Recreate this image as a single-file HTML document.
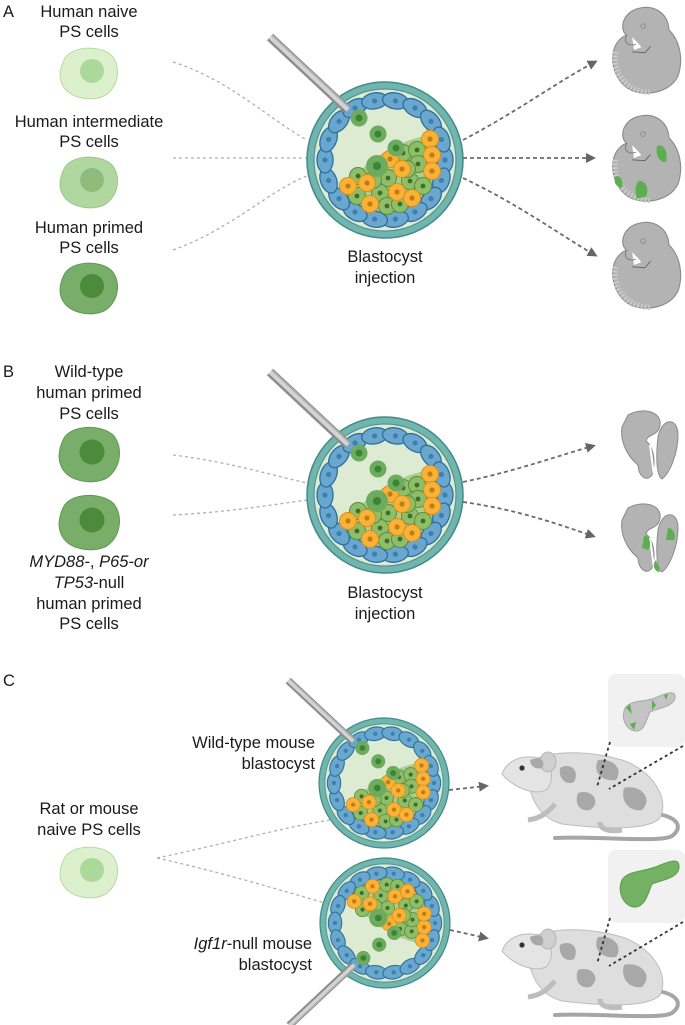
<!DOCTYPE html>
<html><head><meta charset="utf-8"><style>
html,body{margin:0;padding:0;background:#fff;}
svg{display:block;font-family:"Liberation Sans",sans-serif;}
.t{font-size:16.5px;fill:#1a1a1a;text-anchor:middle;}
.l{font-size:16.5px;fill:#1a1a1a;}
.in{stroke:#b0b0b0;stroke-width:1.3;stroke-dasharray:3 3;fill:none;}
.out{stroke:#6a6a6a;stroke-width:1.8;stroke-dasharray:4 3;fill:none;}
</style></head><body>
<svg width="685" height="1025" viewBox="0 0 685 1025" xmlns="http://www.w3.org/2000/svg">
<defs>
<marker id="ah" markerWidth="10" markerHeight="10" refX="7" refY="5" orient="auto" markerUnits="userSpaceOnUse">
<path d="M0,0 L10,5 L0,10 Z" fill="#666"/></marker>
<g id="tro"><ellipse cx="60" cy="0" rx="8" ry="13" fill="#6aa7cf" stroke="#2e6f9c" stroke-width="1.3"/><circle cx="60" cy="0" r="2.6" fill="#3d80b0"/></g>
<g id="oc"><circle r="8.5" fill="#f7b23a" stroke="#e08e12" stroke-width="1"/><circle r="2.6" fill="#c87a10"/></g>
<g id="gc"><circle r="8.5" fill="#8fbe68" stroke="#5c8c42" stroke-width="1"/><circle r="2.4" fill="#3f6e2a"/></g>
<g id="pc"><circle r="8.5" fill="#6dab5e"/><circle r="3.5" fill="#3c8434"/></g>
<g id="blast">
<circle r="78" fill="#72b5ae" stroke="#3f8c86" stroke-width="1.5"/>
<circle r="71" fill="#dcebd2" stroke="#4d9791" stroke-width="1.2"/>
<path d="M-22,8 C0,-12 30,-25 52,-25 L54,30 C40,52 10,56 -20,52 C-40,46 -48,30 -45,22 Z" fill="#a9cf8e"/>
<g transform="rotate(0)"><use href="#tro"/></g><g transform="rotate(20)"><use href="#tro"/></g><g transform="rotate(40)"><use href="#tro"/></g><g transform="rotate(60)"><use href="#tro"/></g><g transform="rotate(80)"><use href="#tro"/></g><g transform="rotate(100)"><use href="#tro"/></g><g transform="rotate(120)"><use href="#tro"/></g><g transform="rotate(140)"><use href="#tro"/></g><g transform="rotate(160)"><use href="#tro"/></g><g transform="rotate(180)"><use href="#tro"/></g><g transform="rotate(200)"><use href="#tro"/></g><g transform="rotate(220)"><use href="#tro"/></g><g transform="rotate(240)"><use href="#tro"/></g><g transform="rotate(260)"><use href="#tro"/></g><g transform="rotate(280)"><use href="#tro"/></g><g transform="rotate(300)"><use href="#tro"/></g><g transform="rotate(320)"><use href="#tro"/></g><g transform="rotate(340)"><use href="#tro"/></g>
<use href="#gc" x="18" y="-7"/><use href="#gc" x="32" y="-10"/><use href="#gc" x="33" y="4"/><use href="#gc" x="25" y="21"/><use href="#gc" x="38" y="26"/><use href="#gc" x="3" y="18"/><use href="#gc" x="-5" y="33"/><use href="#gc" x="-27" y="16"/><use href="#gc" x="-28" y="36"/><use href="#gc" x="2" y="46"/><use href="#gc" x="15" y="44"/><use href="#gc" x="22" y="9"/><use href="#gc" x="-12" y="20"/>
<use href="#oc" x="45" y="-21"/><use href="#oc" x="47" y="-5"/><use href="#oc" x="47" y="11"/><use href="#oc" x="5" y="-1"/><use href="#oc" x="17" y="9"/><use href="#oc" x="-18" y="23"/><use href="#oc" x="-37" y="26"/><use href="#oc" x="12" y="32"/><use href="#oc" x="27" y="38"/><use href="#oc" x="-15" y="44"/>
<use href="#pc" x="-26" y="-42"/><use href="#pc" x="-7" y="-26"/><use href="#pc" x="11" y="-12"/>
<circle cx="-8" cy="6" r="11" fill="#6dab5e"/><circle cx="-8" cy="6" r="4" fill="#3c8434"/>
<path d="M-115,-123 L-37,-50" stroke="#8d8d8d" stroke-width="9" stroke-linecap="butt"/>
<path d="M-115,-123 L-37,-50" stroke="#d4d4d4" stroke-width="4"/>
<path d="M-115,-123 L-37,-50" stroke="#b0b0b0" stroke-width="1.5" transform="translate(2,-2)"/>
</g>
<g id="emb">
<path d="M-8,-45 C10,-50 25,-40 26,-22 C38,-10 42,10 36,28 C28,45 5,50 -12,45 C-30,38 -38,18 -34,0 C-31,-10 -24,-15 -20,-16 C-28,-22 -25,-40 -8,-45 Z" fill="#b3b3b3" stroke="#8a8a8a" stroke-width="1.2"/>
<path d="M-32,2 C-36,25 -20,45 5,46" stroke="#c9c9c9" stroke-width="6" fill="none" stroke-dasharray="2 2"/>
<path d="M-14,-14 C-10,-10 -6,-6 -4,-3 L-12,0 Z" fill="#fff"/>
<circle cx="-2" cy="-26" r="2.5" fill="none" stroke="#888"/>
<path d="M-20,-16 C-24,-8 -18,-4 -10,-6" stroke="#777" fill="none"/>
<path d="M-14,2 L0,3 L6,-4" stroke="#666" fill="none"/>
</g>
<g id="emb2">
<path d="M-24,-30 C-10,-38 10,-34 8,-20 C6,-8 -4,-12 -6,-4 C2,2 4,18 0,30 C-6,38 -14,30 -14,20 C-26,10 -32,-5 -30,-18 Z" fill="#b3b3b3" stroke="#8a8a8a"/>
<path d="M6,-8 C10,-28 26,-28 26,-10 C26,8 18,28 10,34 C4,30 4,10 6,-8 Z" fill="#b3b3b3" stroke="#8a8a8a"/>
<path d="M-2,0 L2,30" stroke="#fff" stroke-width="2"/>
</g>
<g id="mouse">
<path d="M135,66 C170,62 188,76 172,88 C160,95 100,88 55,90" stroke="#a6a6a6" stroke-width="4" fill="none" stroke-linecap="round"/>
<path d="M28,14 C55,0 95,4 122,12 C152,22 170,50 160,70 C147,84 95,80 62,76 C40,70 26,50 28,14 Z" fill="#dedede" stroke="#bdbdbd"/>
<path d="M2,26 C6,14 20,6 38,10 C52,14 56,32 46,42 C32,48 12,38 2,26 Z" fill="#e4e4e4" stroke="#bdbdbd"/>
<ellipse cx="48" cy="14" rx="8" ry="10" fill="#cfcfcf" stroke="#b5b5b5"/>
<circle cx="22" cy="20" r="2.6" fill="#333"/>
<path d="M60,20 C70,14 80,22 74,34 C66,38 58,30 60,20Z" fill="#a8a8a8"/>
<path d="M98,12 C112,10 124,20 116,32 C102,34 92,24 98,12Z" fill="#a8a8a8"/>
<path d="M78,45 C92,40 102,54 90,62 C80,64 74,56 78,45Z" fill="#a8a8a8"/>
<path d="M124,40 C140,36 154,50 142,62 C130,64 120,54 124,40Z" fill="#a8a8a8"/>
<path d="M30,12 C40,8 46,12 42,20 C36,22 30,18 30,12Z" fill="#a8a8a8"/>
<path d="M55,56 C48,64 42,70 28,72" stroke="#bdbdbd" stroke-width="5" fill="none"/>
<path d="M100,74 C100,82 110,84 122,82" stroke="#bdbdbd" stroke-width="5" fill="none"/>
</g>
</defs>

<!-- A -->
<text class="l" x="3" y="17">A</text>
<text class="t" x="89" y="17">Human naive</text><text class="t" x="89" y="37">PS cells</text>
<path d="M64,60 C70,46 100,44 112,56 C122,68 118,88 104,96 C90,102 70,98 63,86 C58,78 60,68 64,60Z" fill="#dcf0cd" stroke="#b7dca1"/>
<circle cx="92" cy="71" r="12" fill="#aad99b"/>
<text class="t" x="89" y="127">Human intermediate</text><text class="t" x="89" y="147">PS cells</text>
<path d="M64,169 C70,155 100,153 112,165 C122,177 118,197 104,205 C90,211 70,207 63,195 C58,187 60,177 64,169Z" fill="#b0d7a0" stroke="#9ac888"/>
<circle cx="92" cy="180" r="12" fill="#8fbc7d"/>
<text class="t" x="89" y="233">Human primed</text><text class="t" x="89" y="253">PS cells</text>
<path d="M64,275 C70,261 100,259 112,271 C122,283 118,303 104,311 C90,317 70,313 63,301 C58,293 60,283 64,275Z" fill="#78ae6a" stroke="#5f9a52"/>
<circle cx="92" cy="286" r="12" fill="#4c8a3c"/>
<path class="in" d="M173,62 C230,80 270,120 307,140"/>
<path class="in" d="M173,158 L307,158"/>
<path class="in" d="M173,250 C230,230 270,190 307,176"/>
<use href="#blast" x="385" y="160"/>
<text class="t" x="385" y="262">Blastocyst</text><text class="t" x="385" y="283">injection</text>
<path class="out" d="M463,140 C520,110 560,80 595,62" marker-end="url(#ah)"/>
<path class="out" d="M463,158 L593,158" marker-end="url(#ah)"/>
<path class="out" d="M463,178 C520,205 560,235 595,255" marker-end="url(#ah)"/>
<g transform="translate(645,50) scale(0.92)"><use href="#emb"/></g>
<g transform="translate(645,158) scale(0.92)"><use href="#emb"/>
<path d="M13,-13 C21,-16 25,-6 23,4 C17,6 11,-2 13,-13Z M-32,20 C-27,18 -23,26 -25,32 C-31,32 -35,26 -32,20Z M-7,25 C1,24 5,34 1,42 L-9,44 C-11,36 -11,30 -7,25Z" fill="#5caf4e"/></g>
<g transform="translate(645,265) scale(0.92)"><use href="#emb"/></g>

<!-- B -->
<text class="l" x="3" y="377">B</text>
<text class="t" x="89" y="377">Wild-type</text><text class="t" x="89" y="398">human primed</text><text class="t" x="89" y="419">PS cells</text>
<path d="M63,440 C69,425 101,423 114,436 C124,449 120,471 105,479 C90,485 69,481 62,468 C57,459 59,449 63,440Z" fill="#78ae6a" stroke="#5f9a52"/>
<circle cx="92" cy="452" r="12.5" fill="#4c8a3c"/>
<path d="M63,508 C69,493 101,491 114,504 C124,517 120,539 105,547 C90,553 69,549 62,536 C57,527 59,517 63,508Z" fill="#78ae6a" stroke="#5f9a52"/>
<circle cx="92" cy="520" r="12.5" fill="#4c8a3c"/>
<text class="t" x="89" y="567"><tspan font-style="italic">MYD88-</tspan>, <tspan font-style="italic">P65-or</tspan></text>
<text class="t" x="89" y="588"><tspan font-style="italic">TP53</tspan>-null</text>
<text class="t" x="89" y="609">human primed</text><text class="t" x="89" y="629">PS cells</text>
<path class="in" d="M173,455 C230,462 270,475 307,483"/>
<path class="in" d="M173,515 C230,512 270,505 307,500"/>
<use href="#blast" x="385" y="495"/>
<text class="t" x="385" y="598">Blastocyst</text><text class="t" x="385" y="619">injection</text>
<path class="out" d="M463,482 C520,470 560,455 593,446" marker-end="url(#ah)"/>
<path class="out" d="M463,502 C520,510 560,525 593,536" marker-end="url(#ah)"/>
<use href="#emb2" x="652" y="445"/>
<use href="#emb2" x="652" y="538"/>
<path d="M644,536 C650,534 652,546 648,550 L642,548 Z M668,528 C674,528 676,536 674,540 L666,540 Z M656,560 C652,564 654,572 660,572 Z" fill="#5caf4e"/>

<!-- C -->
<text class="l" x="3" y="686">C</text>
<text class="l" x="315" y="748" text-anchor="end">Wild-type mouse</text>
<text class="l" x="315" y="769" text-anchor="end">blastocyst</text>
<text class="t" x="89" y="814">Rat or mouse</text><text class="t" x="89" y="835">naive PS cells</text>
<path d="M64,859 C70,845 100,843 112,855 C122,867 118,887 104,895 C90,901 70,897 63,885 C58,877 60,867 64,859Z" fill="#dcf0cd" stroke="#b7dca1"/>
<circle cx="92" cy="870" r="12" fill="#aad99b"/>
<path class="in" d="M157,858 C220,845 280,828 330,820"/>
<path class="in" d="M157,858 C220,872 280,890 325,903"/>
<use href="#blast" transform="translate(384,783) scale(0.833)"/>
<use href="#blast" transform="translate(385,923) scale(0.833,-0.833)"/>
<text class="l" x="312" y="949" text-anchor="end"><tspan font-style="italic">Igf1r</tspan>-null mouse</text>
<text class="l" x="312" y="970" text-anchor="end">blastocyst</text>
<path class="out" d="M449,790 L486,786" marker-end="url(#ah)"/>
<path class="out" d="M450,930 L486,938" marker-end="url(#ah)"/>
<use href="#mouse" x="500" y="748"/>
<use href="#mouse" x="500" y="925"/>
<rect x="608" y="674" width="77" height="73" rx="8" fill="#f1f1f1"/>
<path d="M625,708 C630,700 645,702 655,698 C668,692 676,690 675,698 C674,706 660,708 650,712 C646,720 645,730 637,731 C628,732 620,720 625,708Z" fill="#c4c4c4" stroke="#aaa"/>
<path d="M626,708 L630,704 L632,714 Z M652,700 L656,705 L652,710Z M664,695 L668,694 L666,700Z M630,724 L636,722 L634,730Z" fill="#5caf4e"/>
<rect x="608" y="850" width="77" height="73" rx="8" fill="#f1f1f1"/>
<path d="M622,880 C628,870 645,872 658,866 C672,860 680,858 679,868 C678,878 662,880 652,884 C648,894 645,906 636,907 C626,908 616,894 622,880Z" fill="#73b262" stroke="#5c9b4c"/>
<path d="M610,742 L597,787 M683,746 L609,789" stroke="#333" stroke-width="1.8" stroke-dasharray="3 3" fill="none"/>
<path d="M610,918 L597,964 M683,922 L609,966" stroke="#333" stroke-width="1.8" stroke-dasharray="3 3" fill="none"/>
</svg>
</body></html>
